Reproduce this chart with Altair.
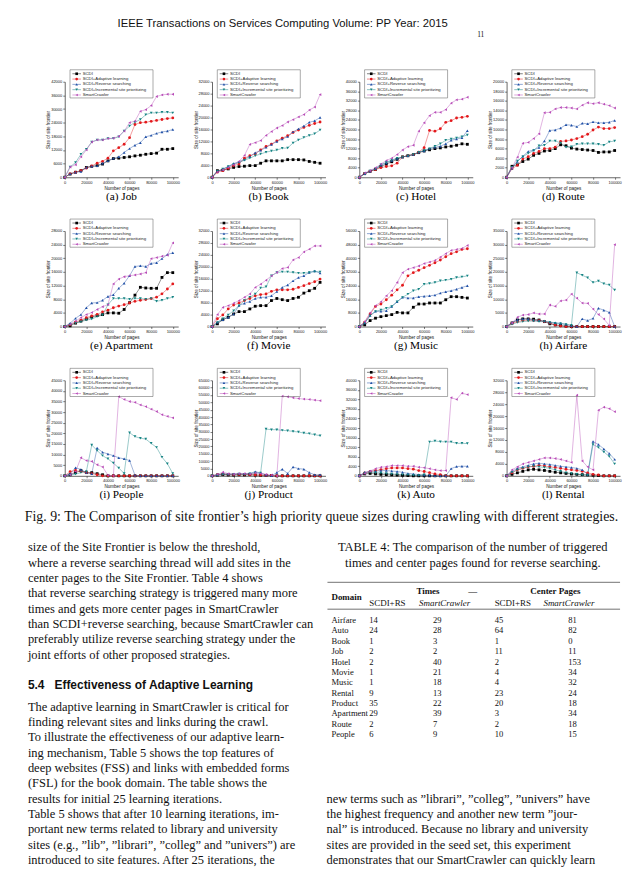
import altair as alt
import pandas as pd

SANS = "Liberation Sans"
SERIF = "Liberation Serif"

X_PAGES = list(range(0, 100001, 5000))
X_TICKS = [0, 20000, 40000, 60000, 80000, 100000]
SERIES = ["SCDI", "SCDI+Adaptive learning", "SCDI+Reverse searching",
          "SCDI+Incremental site prioritizing", "SmartCrawler"]
COLORS = ["#000000", "#e3191c", "#1f4fa6", "#138282", "#b84db8"]
SHAPES = ["square", "circle", "triangle-up", "triangle-down", "triangle-left"]

# ---- data (size of site frontier, per series) ----
job = [
    [0, 1400, 2200, 2900, 4300, 4800, 5100, 5800, 7200, 8200, 8400, 8700, 9000, 9400, 9700, 10100, 10400, 10600, 12300, 12300, 12600],
    [0, 1500, 2200, 2900, 4000, 5000, 6200, 7000, 8400, 11600, 13000, 14500, 17400, 23200, 24000, 24200, 24600, 25000, 25400, 25800, 26100],
    [0, 1500, 2200, 2500, 4300, 4800, 5000, 6200, 7200, 8300, 9000, 10900, 12600, 14100, 15200, 17800, 18400, 19300, 19900, 20300, 21000],
    [0, 4500, 6500, 10100, 12300, 15500, 16400, 16400, 17000, 17000, 17800, 20300, 22500, 24200, 25400, 27500, 28300, 28300, 28600, 28600, 28300],
    [0, 4500, 5500, 9000, 12000, 15500, 16400, 16400, 17000, 17200, 18000, 20300, 24000, 24700, 29000, 29700, 31500, 35500, 36200, 36500, 36500],
]
book = [
    [0, 2200, 2400, 2800, 3300, 3600, 3700, 3900, 3900, 4700, 5500, 5500, 5500, 5500, 5900, 5900, 5900, 5800, 5300, 5000, 4700],
    [0, 1700, 2200, 3000, 3900, 4400, 6400, 7200, 7800, 9200, 10300, 11100, 12200, 13100, 13900, 15000, 15800, 16700, 17400, 18000, 18500],
    [0, 2000, 2600, 3600, 4600, 5200, 6000, 7000, 8200, 9000, 10000, 11000, 12000, 12800, 13600, 15200, 16200, 17200, 18400, 18900, 20000],
    [0, 2000, 2800, 3600, 4300, 4900, 5700, 6400, 7200, 7800, 8400, 8800, 9100, 9700, 9800, 11500, 12500, 13300, 14000, 14600, 15800],
    [0, 1800, 2500, 3300, 4200, 5300, 7300, 11000, 11600, 12300, 14000, 15300, 16500, 17300, 18500, 19300, 20200, 21000, 22500, 23500, 27700],
]
hotel = [
    [0, 1500, 2500, 3300, 4500, 5500, 6500, 7500, 8500, 9000, 9500, 10300, 11000, 11500, 12000, 12300, 12700, 13000, 13400, 14000, 13800],
    [0, 1500, 2500, 3200, 4000, 4500, 4800, 5900, 8500, 9000, 9500, 10500, 12400, 19600, 19300, 20300, 23000, 23700, 24800, 25100, 25500],
    [0, 1500, 2500, 3500, 5000, 6000, 7000, 7800, 8500, 9000, 9500, 10500, 11000, 12000, 12500, 13000, 14000, 15500, 16000, 16500, 19500],
    [0, 1500, 2600, 3600, 5200, 6300, 7200, 8000, 8500, 9000, 9500, 10500, 11200, 12000, 13000, 14000, 15500, 16000, 16500, 17000, 17700],
    [0, 1800, 2800, 4000, 5500, 7000, 8000, 9500, 11400, 12800, 13400, 19300, 22800, 25800, 27200, 27200, 28300, 31000, 32400, 32700, 33500],
]
route = [
    [0, 2300, 2600, 3300, 3800, 4600, 5000, 5500, 5600, 6000, 6800, 6600, 6100, 5900, 5800, 5700, 5600, 5200, 5300, 5300, 5600],
    [0, 1800, 2500, 3800, 4300, 5000, 5400, 6000, 6000, 6300, 7500, 7600, 7800, 8100, 8500, 9000, 9900, 10500, 10200, 10200, 10400],
    [0, 1900, 3300, 4400, 5400, 5700, 6200, 7600, 9800, 9900, 10300, 11000, 10900, 10600, 11300, 11200, 11600, 11400, 11400, 11500, 11900],
    [0, 2100, 3400, 4300, 5000, 5600, 6600, 6700, 7600, 7600, 7200, 6300, 6400, 6900, 7000, 7000, 7000, 6900, 6700, 7400, 7600],
    [0, 2000, 4200, 7100, 7300, 8100, 9100, 13500, 13600, 14300, 14600, 14600, 14500, 14300, 15100, 15600, 15400, 15600, 15300, 15000, 14500],
]
apartment = [
    [0, 200, 1000, 1600, 2200, 2800, 3200, 3500, 4000, 4000, 3900, 5000, 7000, 9200, 11500, 11300, 11200, 11200, 14400, 15800, 15800],
    [0, 500, 1250, 1900, 2600, 3100, 3550, 4300, 4800, 5500, 6000, 6400, 6900, 7400, 7700, 7900, 8200, 8600, 9600, 11000, 12500],
    [0, 1000, 2400, 3500, 5500, 6900, 7000, 7700, 8800, 9300, 11200, 12700, 14900, 17600, 17800, 17600, 18500, 18700, 19900, 21100, 21600],
    [0, 500, 1000, 1400, 1900, 2200, 2900, 3400, 6400, 8200, 8200, 8200, 8000, 8200, 8200, 8000, 8200, 7400, 7700, 8200, 8600],
    [0, 700, 1600, 2600, 3500, 4100, 5000, 5800, 6400, 12500, 13900, 14600, 14900, 15100, 15400, 15800, 19900, 20200, 20600, 20900, 24500],
]
movie = [
    [0, 900, 2300, 3100, 4200, 5000, 5000, 5900, 6800, 7000, 7000, 8700, 9400, 9000, 8700, 9400, 9800, 11200, 12000, 12800, 14800],
    [0, 2600, 3900, 5900, 7200, 7900, 8700, 9400, 10300, 10700, 10900, 11800, 12300, 12300, 12300, 12500, 13100, 13700, 14400, 15000, 15900],
    [0, 1400, 2300, 3100, 4200, 7000, 7800, 8400, 9400, 9800, 9800, 10300, 11700, 13100, 13900, 15300, 16400, 17000, 18100, 18600, 17900],
    [0, 1400, 2600, 3900, 5300, 7000, 8700, 9800, 10900, 12900, 13300, 17000, 18100, 18300, 18300, 18100, 17900, 17900, 18100, 18400, 18300],
    [0, 4000, 6400, 7000, 7800, 8700, 9800, 10900, 13100, 14200, 15500, 17000, 18100, 19400, 19800, 22300, 23100, 25000, 25900, 27000, 27000],
]
music = [
    [0, 1000, 3500, 4900, 5800, 6400, 7000, 8300, 8000, 8000, 11300, 13200, 13200, 13800, 13800, 13800, 15700, 17500, 17500, 17100, 16700],
    [0, 2500, 7400, 11800, 13200, 15700, 18400, 21500, 24200, 29700, 31600, 33000, 34500, 35900, 37400, 39000, 40900, 42700, 43800, 45200, 45600],
    [0, 2100, 6400, 8900, 8900, 9300, 11800, 14500, 17100, 16700, 16700, 17500, 17700, 18000, 18400, 19600, 20400, 21000, 21900, 22900, 23900],
    [0, 2100, 6400, 8900, 9700, 10700, 11800, 14500, 17100, 19000, 21000, 21900, 24800, 25200, 25800, 26800, 27200, 27700, 28700, 29100, 29700],
    [0, 2900, 8000, 12200, 14500, 18000, 21000, 25800, 31600, 33600, 34500, 35500, 36900, 37800, 38800, 40700, 42700, 44600, 45200, 45800, 47500],
]
airfare = [
    [0, 1300, 2400, 2800, 2800, 2700, 2400, 1800, 1000, 600, 400, 100, 0, 0, 0, 0, 0, 0, 0, 0, 0],
    [0, 1200, 1800, 2200, 2400, 2200, 2200, 1800, 1300, 600, 200, 0, 0, 0, 0, 0, 0, 0, 0, 0, 0],
    [0, 1500, 2500, 2800, 2800, 2400, 2200, 2000, 1600, 1400, 1200, 800, 300, 0, 2800, 2200, 3000, 6700, 6000, 5200, 0],
    [0, 800, 1500, 1800, 2000, 2000, 1800, 1800, 1500, 1200, 1000, 800, 500, 19700, 18800, 17900, 16100, 16700, 15700, 15200, 13400],
    [0, 1300, 3400, 4200, 4400, 5000, 4600, 4600, 7900, 7400, 9400, 9700, 11900, 10400, 8600, 8500, 6400, 4400, 2800, 400, 30000],
]
people = [
    [0, 500, 1500, 2500, 1500, 1500, 1000, 500, 0, 0, 0, 0, 0, 0, 0, 0, 0, 0, 0, 0, 0],
    [0, 2000, 2500, 2000, 1500, 1000, 500, 0, 0, 0, 0, 0, 0, 0, 0, 0, 0, 0, 0, 0, 0],
    [0, 1000, 3800, 3000, 1500, 1000, 13100, 11100, 10300, 9500, 8500, 8000, 7200, 300, 0, 0, 0, 0, 0, 0, 0],
    [0, 300, 800, 1500, 2000, 14500, 11900, 9500, 8000, 6000, 3700, 1100, 20300, 18500, 17700, 17300, 15300, 13400, 8800, 5700, 1100],
    [0, 500, 2000, 8500, 7200, 6800, 5200, 4200, 300, 0, 37300, 36000, 35000, 34600, 33400, 32600, 31400, 30300, 28800, 28000, 27300],
]
product = [
    [0, 500, 800, 600, 500, 700, 600, 800, 500, 400, 300, 200, 0, 0, 0, 0, 0, 0, 0, 0, 0],
    [0, 800, 1200, 1000, 800, 900, 1000, 800, 600, 500, 300, 200, 0, 0, 0, 0, 0, 0, 0, 0, 0],
    [0, 700, 1500, 1200, 1300, 1500, 1400, 1600, 2800, 2000, 600, 0, 2200, 4500, 1600, 6000, 4900, 4500, 2200, 700, 700],
    [0, 500, 800, 1000, 1000, 1200, 1000, 1500, 2000, 2000, 31800, 31400, 31400, 30900, 30700, 30200, 29800, 29100, 28700, 28000, 27300],
    [0, 1000, 2500, 1500, 1200, 1500, 1500, 1200, 2000, 1500, 1000, 600, 0, 54200, 53800, 53100, 52600, 52200, 52000, 51500, 51100],
]
auto = [
    [0, 800, 1000, 800, 600, 500, 400, 300, 200, 100, 0, 0, 0, 0, 0, 0, 0, 0, 0, 0, 0],
    [0, 1200, 1800, 2200, 2600, 3000, 3300, 3300, 3300, 3000, 2800, 2200, 1800, 1300, 800, 500, 0, 0, 0, 0, 0],
    [0, 1500, 2000, 2000, 2200, 2200, 2000, 1800, 1500, 1000, 800, 500, 300, 200, 0, 0, 0, 3000, 3900, 4000, 4000],
    [0, 1000, 1500, 1300, 1200, 1000, 800, 600, 500, 400, 200, 100, 500, 14200, 14600, 14300, 14200, 14200, 13600, 13600, 13500],
    [0, 1000, 2000, 3000, 3600, 3800, 4300, 4300, 4300, 4000, 4000, 3600, 3400, 3000, 2500, 2200, 2200, 32700, 32000, 34600, 34000],
]
rental = [
    [0, 500, 1000, 1500, 2000, 2200, 2000, 1800, 1500, 1200, 1000, 800, 600, 500, 400, 300, 200, 100, 0, 0, 0],
    [0, 1000, 2000, 2500, 3000, 3200, 3500, 3300, 3000, 2800, 2500, 2200, 2000, 1800, 1500, 1000, 500, 300, 0, 0, 0],
    [0, 1500, 2500, 3000, 3500, 4000, 4200, 4000, 3800, 3500, 3200, 3000, 2800, 2500, 2000, 500, 11500, 10500, 9000, 7500, 5500],
    [0, 1200, 2000, 2500, 3000, 3200, 3000, 2800, 2500, 2000, 1500, 1000, 800, 500, 300, 200, 10500, 9500, 8000, 6500, 4000],
    [0, 2000, 3000, 4000, 4500, 5000, 5500, 6000, 6000, 5800, 5500, 5000, 4500, 27000, 5000, 3000, 2000, 22000, 23000, 22500, 21500],
]

PANEL_LABELS = ["(a) Job", "(b) Book", "(c) Hotel", "(d) Route",
                "(e) Apartment", "(f) Movie", "(g) Music", "(h) Airfare",
                "(i) People", "(j) Product", "(k) Auto", "(l) Rental"]
PANEL_DATA = [job, book, hotel, route, apartment, movie, music, airfare,
              people, product, auto, rental]
Y_MAX = [42000, 32000, 40000, 20000, 28000, 32000, 56000, 35000,
         45000, 65000, 40000, 32000]
Y_STEP = [6000, 4000, 4000, 2000, 4000, 4000, 8000, 5000,
          5000, 5000, 4000, 4000]

# ---- page text ----
HEADER = "IEEE Transactions on Services Computing Volume: PP Year: 2015"
PAGE_NO = "11"
CAPTION = ("Fig. 9: The Comparison of site frontier\u2019s high priority queue sizes "
           "during crawling with different strategies.")
LEFT_P1 = [
    "size of the Site Frontier is below the threshold,",
    "where a reverse searching thread will add sites in the",
    "center pages to the Site Frontier. Table 4 shows",
    "that reverse searching strategy is triggered many more",
    "times and gets more center pages in SmartCrawler",
    "than SCDI+reverse searching, because SmartCrawler can",
    "preferably utilize reverse searching strategy under the",
    "joint efforts of other proposed strategies.",
]
HEADING = "5.4\u00a0\u00a0\u00a0Effectiveness of Adaptive Learning"
LEFT_P2 = [
    "The adaptive learning in SmartCrawler is critical for",
    "finding relevant sites and links during the crawl.",
    "To illustrate the effectiveness of our adaptive learn-",
    "ing mechanism, Table 5 shows the top features of",
    "deep websites (FSS) and links with embedded forms",
    "(FSL) for the book domain. The table shows the",
    "results for initial 25 learning iterations.",
    "\u2003Table 5 shows that after 10 learning iterations, im-",
    "portant new terms related to library and university",
    "sites (e.g., \u201dlib\u201d, \u201dlibrari\u201d, \u201dcolleg\u201d and \u201dunivers\u201d) are",
    "introduced to site features. After 25 iterations, the",
]
RIGHT_TEXT = [
    "new terms such as \u201dlibrari\u201d, \u201dcolleg\u201d, \u201dunivers\u201d have",
    "the highest frequency and another new term \u201djour-",
    "nal\u201d is introduced. Because no library and university",
    "sites are provided in the seed set, this experiment",
    "demonstrates that our SmartCrawler can quickly learn",
]
TABLE_CAPTION = ["TABLE 4: The comparison of the number of triggered",
                 "times and center pages found for reverse searching."]
DOMAINS = ["Airfare", "Auto", "Book", "Job", "Hotel", "Movie", "Music",
           "Rental", "Product", "Apartment", "Route", "People"]
TIMES_RS = [14, 24, 1, 2, 2, 1, 1, 9, 35, 29, 2, 6]
TIMES_SC = [29, 28, 3, 2, 40, 21, 18, 13, 22, 39, 7, 9]
CENTER_RS = [45, 64, 1, 11, 2, 4, 4, 23, 20, 3, 2, 10]
CENTER_SC = [81, 82, 0, 11, 153, 34, 32, 24, 18, 34, 18, 15]

CSCALE = alt.Scale(domain=SERIES, range=COLORS)
SSCALE = alt.Scale(domain=SERIES, range=SHAPES)
LEG_Y = alt.Scale(domain=[0, 1], range=[-8, -2.67], nice=False, zero=False)


def legend_layers():
    ldf = pd.DataFrame({"series": SERIES, "i": list(range(len(SERIES)))})
    box = alt.Chart(ldf.head(1)).mark_rect(
        fillOpacity=0, stroke="#555", strokeWidth=0.5).encode(
        x=alt.value(5.3), x2=alt.value(88.7), y=alt.value(-12), y2=alt.value(16.3))
    yl = alt.Y("i:Q", scale=LEG_Y, axis=None)
    col = alt.Color("series:N", scale=CSCALE, legend=None)
    seg = alt.Chart(ldf).mark_rule(strokeWidth=0.5).encode(
        x=alt.value(7.7), x2=alt.value(16.3), y=yl, color=col)
    sym = alt.Chart(ldf).mark_point(filled=True, size=7, opacity=1).encode(
        x=alt.value(12), y=yl, color=col,
        shape=alt.Shape("series:N", scale=SSCALE, legend=None))
    txt = alt.Chart(ldf).mark_text(align="left", baseline="middle", font=SANS,
                                   fontSize=4.3, color="#222").encode(
        x=alt.value(18), y=yl, text="series:N")
    return [box, seg, sym, txt]


def panel(label, ymax, ystep, vals):
    rows = []
    for s, arr in zip(SERIES, vals):
        for xv, yv in zip(X_PAGES, arr):
            rows.append({"pages": xv, "size": yv, "series": s})
    df = pd.DataFrame(rows)
    common_axis = dict(labelFont=SANS, labelFontSize=4, titleFont=SANS,
                       titleFontSize=4.6, titleFontWeight="normal",
                       labelPadding=1, titlePadding=1, tickSize=2,
                       tickWidth=0.5, domainWidth=0.6, domainColor="#000",
                       tickColor="#000", grid=False, labelColor="#111",
                       titleColor="#111", labelOverlap=False, format="d")
    xenc = alt.X("pages:Q", scale=alt.Scale(domain=[0, 105000], nice=False),
                 axis=alt.Axis(values=X_TICKS, title="Number of pages",
                               labelFlush=False, **common_axis))
    yscale = alt.Scale(domain=[0, ymax], nice=False)
    yenc = alt.Y("size:Q", scale=yscale,
                 axis=alt.Axis(values=list(range(0, ymax + 1, ystep)),
                               title="Size of site frontier",
                               minExtent=13, maxExtent=13, **common_axis))
    lines = alt.Chart(df).mark_line(strokeWidth=0.5, opacity=0.85).encode(
        x=xenc, y=yenc,
        color=alt.Color("series:N", scale=CSCALE, legend=None))
    pts = alt.Chart(df).mark_point(filled=True, size=8, opacity=1).encode(
        x=xenc, y=alt.Y("size:Q", scale=yscale, axis=None),
        color=alt.Color("series:N", scale=CSCALE, legend=None),
        shape=alt.Shape("series:N", scale=SSCALE, legend=None))
    return alt.layer(lines, pts, *legend_layers()).resolve_scale(
        y="independent").properties(
        width=114, height=96,
        title=alt.TitleParams(label, orient="bottom", font=SERIF, fontSize=11.3,
                              fontWeight="normal", offset=1, color="#000",
                              frame="group", anchor="middle"))


RES = dict(x="independent", y="independent", color="independent", shape="independent")


def spacer(w):
    return alt.Chart(pd.DataFrame({"a": [0]})).mark_point(opacity=0).encode(
        x=alt.value(0), y=alt.value(0)).properties(width=w, height=10)


rows = []
for r in range(3):
    ps = [panel(PANEL_LABELS[i], Y_MAX[i], Y_STEP[i], PANEL_DATA[i])
          for i in range(r * 4, r * 4 + 4)]
    rows.append(alt.hconcat(spacer(22), *ps, spacing=13).resolve_scale(**RES))
grid = alt.vconcat(*rows, spacing=16).resolve_scale(**RES)

# ---- header ----
one = pd.DataFrame({"t": [HEADER], "p": [PAGE_NO]})
header = alt.layer(
    alt.Chart(one).mark_text(font=SANS, fontSize=11.3, align="center",
                             baseline="middle", color="#111").encode(
        x=alt.value(273), y=alt.value(14), text="t:N"),
    alt.Chart(one).mark_text(font=SERIF, fontSize=7.5, align="center",
                             baseline="middle", color="#111").encode(
        x=alt.value(472), y=alt.value(25), text="p:N"),
).properties(width=622, height=59)

# ---- bottom text area ----
BOTTOM_TOP = 501


def by(py):
    return py - BOTTOM_TOP


def bx(px):
    return px - 8


def lines_layer(lines, x, y0, lh, size, font=SERIF, align="left",
                weight="normal", style="normal"):
    df = pd.DataFrame({"i": list(range(len(lines))), "t": [str(s) for s in lines]})
    return alt.Chart(df).mark_text(align=align, baseline="middle", font=font,
                                   fontSize=size, fontWeight=weight,
                                   fontStyle=style, color="#111").encode(
        x=alt.value(bx(x)),
        y=alt.Y("i:Q", scale=alt.Scale(domain=[0, 1], nice=False, zero=False,
                                        range=[by(y0), by(y0) + lh]), axis=None),
        text="t:N")


def rule(x1, x2, y):
    return alt.Chart(pd.DataFrame({"a": [0]})).mark_rule(
        color="#111", strokeWidth=0.6).encode(
        x=alt.value(bx(x1)), x2=alt.value(bx(x2)), y=alt.value(by(y)))


LH = 15.4
FS = 12.5
TF = 8.6
ROW0, ROWH = 621, 10.4
layers = [
    lines_layer([CAPTION], 320, 517, LH, 13.9, align="center"),
    lines_layer(LEFT_P1, 25, 548, LH, FS),
    lines_layer([HEADING], 25, 686, LH, 12, font=SANS, weight="bold"),
    lines_layer(LEFT_P2, 25, 708, LH, FS),
    lines_layer(TABLE_CAPTION, 472, 548, LH, FS, align="center"),
    lines_layer(RIGHT_TEXT, 325, 800.4, LH, FS),
    rule(326, 620, 583),
    rule(326, 620, 610),
    lines_layer(["Domain"], 330, 598, LH, TF + 0.4, weight="bold"),
    lines_layer(["Times"], 427, 592, LH, TF + 0.4, align="center", weight="bold"),
    lines_layer(["\u2014"], 472, 592, LH, TF + 0.4, align="center", weight="bold"),
    lines_layer(["Center Pages"], 555, 592, LH, TF + 0.4, align="center", weight="bold"),
    lines_layer(["SCDI+RS"], 368, 604, LH, TF + 0.4),
    lines_layer(["SmartCrawler"], 418, 604, LH, TF + 0.4, style="italic"),
    lines_layer(["SCDI+RS"], 494, 604, LH, TF + 0.4),
    lines_layer(["SmartCrawler"], 543, 604, LH, TF + 0.4, style="italic"),
    lines_layer(DOMAINS, 330, ROW0, ROWH, TF),
    lines_layer(TIMES_RS, 368, ROW0, ROWH, TF),
    lines_layer(TIMES_SC, 432, ROW0, ROWH, TF),
    lines_layer(CENTER_RS, 494, ROW0, ROWH, TF),
    lines_layer(CENTER_SC, 568, ROW0, ROWH, TF),
]
bottom = alt.layer(*layers).resolve_scale(y="independent").properties(
    width=622, height=865 - BOTTOM_TOP)

chart = alt.vconcat(header, grid, bottom, spacing=0, padding=0).resolve_scale(
    **RES).configure_view(stroke=None)

chart.save("out.html", embed_options={"renderer": "svg", "actions": False})
